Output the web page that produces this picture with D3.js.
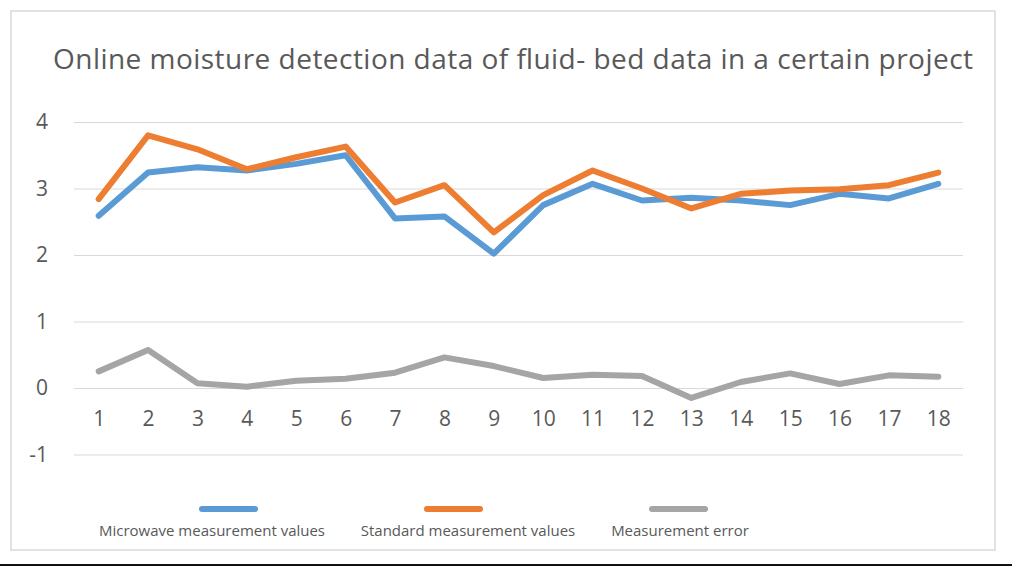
<!DOCTYPE html>
<html>
<head>
<meta charset="utf-8">
<script src="https://cdn.jsdelivr.net/npm/d3@7"></script>
<style>
  html, body { margin: 0; padding: 0; background: #fff; }
  svg { display: block; font-family: "Open Sans", "Noto Sans", sans-serif; }
</style>
</head>
<body>
<svg id="chart" width="1012" height="566"></svg>
<script>
/* ---------------- DATA ---------------- */
const categories = d3.range(1, 19).map(String);
const microwave = [2.59, 3.24, 3.32, 3.27, 3.37, 3.50, 2.55, 2.58, 2.02, 2.75, 3.07, 2.82, 2.86, 2.82, 2.75, 2.92, 2.85, 3.07];
const standard  = [2.84, 3.80, 3.59, 3.29, 3.47, 3.63, 2.79, 3.05, 2.34, 2.90, 3.27, 3.00, 2.70, 2.92, 2.97, 2.99, 3.05, 3.24];
const errorVals = [0.25, 0.57, 0.07, 0.02, 0.11, 0.14, 0.23, 0.46, 0.33, 0.15, 0.20, 0.18, -0.15, 0.09, 0.22, 0.06, 0.19, 0.17];
const yTicks = [-1, 0, 1, 2, 3, 4];
const seriesNames = ["Microwave measurement values", "Standard measurement values", "Measurement error"];
const seriesColors = ["#5B9BD5", "#ED7D31", "#A5A5A5"];
const title = "Online moisture detection data of fluid- bed data in a certain project";

const series = [microwave, standard, errorVals].map((values, i) => ({
  name: seriesNames[i], color: seriesColors[i], values
}));

/* ---------------- SETUP ---------------- */
const svg = d3.select("#chart");
const plot = { left: 74, right: 963, top: 122, bottom: 454.5 };

// chart frame
svg.append("rect")
  .attr("x", 11).attr("y", 11)
  .attr("width", 984).attr("height", 539)
  .attr("fill", "#fff")
  .attr("stroke", "#D9D9D9")
  .attr("stroke-width", 1.5);

// black strip at the bottom of the screenshot
svg.append("rect")
  .attr("x", 0).attr("y", 564)
  .attr("width", 1012).attr("height", 2)
  .attr("fill", "#111");

/* ---------------- SCALES ---------------- */
const x = d3.scalePoint()
  .domain(categories)
  .range([plot.left, plot.right])
  .padding(0.5);

const y = d3.scaleLinear()
  .domain([-1, 4])
  .range([plot.bottom, plot.top]);

/* ---------------- TITLE ---------------- */
svg.append("text")
  .attr("x", 513).attr("y", 69)
  .attr("text-anchor", "middle")
  .attr("font-size", 28)
  .attr("fill", "#595959")
  .attr("textLength", 920)
  .attr("lengthAdjust", "spacing")
  .text(title);

/* ---------------- GRID + Y AXIS ---------------- */
const yAxis = d3.axisLeft(y)
  .tickValues(yTicks)
  .tickSize(-(plot.right - plot.left))
  .tickPadding(26)
  .tickFormat(d => String(d));   // plain hyphen, as in the original

const yG = svg.append("g")
  .attr("transform", `translate(${plot.left},0)`)
  .call(yAxis);
yG.select(".domain").remove();
yG.selectAll(".tick line").attr("stroke", "#D9D9D9").attr("stroke-width", 1.2);
yG.selectAll(".tick text")
  .attr("fill", "#595959")
  .attr("font-size", 21)
  .attr("font-family", "'Open Sans', sans-serif");

/* ---------------- X AXIS (labels below zero line) ---------------- */
const xAxis = d3.axisBottom(x).tickSize(0).tickPadding(23);
const xG = svg.append("g")
  .attr("transform", `translate(0,${y(0)})`)
  .call(xAxis);
xG.select(".domain").remove();
xG.selectAll(".tick text")
  .attr("fill", "#595959")
  .attr("font-size", 21)
  .attr("font-family", "'Open Sans', sans-serif");

/* ---------------- LINES ---------------- */
const line = d3.line()
  .x((d, i) => x(categories[i]))
  .y(d => y(d));

svg.selectAll(".series")
  .data(series)
  .enter()
  .append("path")
  .attr("class", "series")
  .attr("d", d => line(d.values))
  .attr("fill", "none")
  .attr("stroke", d => d.color)
  .attr("stroke-width", 6)
  .attr("stroke-linecap", "round")
  .attr("stroke-linejoin", "round");

/* ---------------- LEGEND ---------------- */
const legendSwatchX = [199, 424, 649];
const legendTextX = [212, 468, 680];

const legend = svg.selectAll(".legend")
  .data(series)
  .enter()
  .append("g")
  .attr("class", "legend");

legend.append("line")
  .attr("x1", (d, i) => legendSwatchX[i] + 3)
  .attr("x2", (d, i) => legendSwatchX[i] + 56)
  .attr("y1", 509).attr("y2", 509)
  .attr("stroke", d => d.color)
  .attr("stroke-width", 6)
  .attr("stroke-linecap", "round");

legend.append("text")
  .attr("x", (d, i) => legendTextX[i])
  .attr("y", 536)
  .attr("text-anchor", "middle")
  .attr("font-size", 15)
  .attr("fill", "#595959")
  .text(d => d.name);
</script>
</body>
</html>
